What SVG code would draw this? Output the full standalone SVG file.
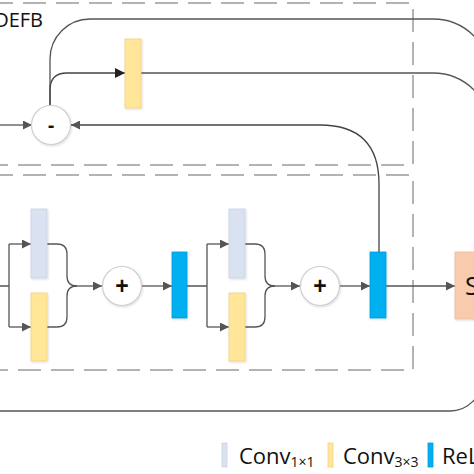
<svg xmlns="http://www.w3.org/2000/svg" width="474" height="474" viewBox="0 0 474 474">
<style>
.dash{fill:none;stroke:#9a9a9a;stroke-width:1.5;stroke-dasharray:23 10}
.ln{fill:none;stroke:#555;stroke-width:1.3}
.lnd{fill:none;stroke:#444;stroke-width:1.3}
.yel{fill:#FFE699;stroke:#F2D27E;stroke-width:0.8}
.lav{fill:#DAE1F1;stroke:#C9D1E6;stroke-width:0.8}
.blu{fill:#00B0F0;stroke:#0A9CD6;stroke-width:0.8}
.org{fill:#F8CBAD;stroke:#EDBB9A;stroke-width:0.8}
.circ{fill:#fff;stroke:#cfcfcf;stroke-width:1.2}
.op{font-family:"Liberation Sans",Arial,sans-serif;font-weight:bold;fill:#111;text-anchor:middle}
.lbl{font-family:"Open Sans","Noto Sans",sans-serif;fill:#111}
</style>
<defs>
<marker id="ah" viewBox="0 0 10 10" refX="10" refY="5" markerWidth="10" markerHeight="9" markerUnits="userSpaceOnUse" orient="auto">
<path d="M0,0 L10,5 L0,10 Z" fill="#555"/>
</marker>
<marker id="ahk" viewBox="0 0 10 10" refX="10" refY="5" markerWidth="11" markerHeight="10" markerUnits="userSpaceOnUse" orient="auto">
<path d="M0,0 L10,5 L0,10 Z" fill="#222"/>
</marker>
<filter id="sh" x="-30%" y="-30%" width="160%" height="160%">
<feDropShadow dx="0.8" dy="1" stdDeviation="1" flood-color="#000" flood-opacity="0.15"/>
</filter>
</defs>

<g id="frames">
<rect class="dash" x="-10" y="3" width="423" height="162"/>
<rect class="dash" x="-10" y="175" width="423" height="195"/>
</g>

<g id="title">
<text class="lbl" x="43" y="27" font-size="20" text-anchor="end">DEFB</text>
</g>

<g id="connectors">
<path class="ln" d="M0,125 H32" marker-end="url(#ah)"/>
<path class="ln" d="M50,105 V59 A40 40 0 0 1 90,19 H433 A58 58 0 0 1 491,77 V200"/>
<path class="lnd" d="M50,105 V90 Q50,73 67,73 H125" marker-end="url(#ahk)"/>
<path class="ln" d="M141,73 H433 A58 58 0 0 1 491,131 V200"/>
<path class="lnd" d="M379,252 V184 Q379,125 320,125 H71" marker-end="url(#ah)"/>
<path class="ln" d="M0,286 H9 M9,244 V327"/>
<path class="ln" d="M9,244 H31" marker-end="url(#ah)"/>
<path class="ln" d="M9,327 H31" marker-end="url(#ah)"/>
<path class="ln" d="M47,244 H57 Q67,244 67,254 V276 Q67,286 77,286"/>
<path class="ln" d="M47,327 H57 Q67,327 67,317 V296 Q67,286 77,286"/>
<path class="ln" d="M77,286 H102" marker-end="url(#ah)"/>
<path class="ln" d="M141,286 H172" marker-end="url(#ah)"/>
<path class="ln" d="M187,286 H207 M207,244 V327"/>
<path class="ln" d="M207,244 H229" marker-end="url(#ah)"/>
<path class="ln" d="M207,327 H229" marker-end="url(#ah)"/>
<path class="ln" d="M245,244 H255 Q265,244 265,254 V276 Q265,286 275,286"/>
<path class="ln" d="M245,327 H255 Q265,327 265,317 V296 Q265,286 275,286"/>
<path class="ln" d="M275,286 H300" marker-end="url(#ah)"/>
<path class="ln" d="M339,286 H370" marker-end="url(#ah)"/>
<path class="ln" d="M386,286 H455" marker-end="url(#ah)"/>
<path class="ln" d="M0,411 H450 A32 32 0 0 0 482,379 V300"/>
</g>

<g id="minus">
<circle class="circ" cx="51" cy="125" r="19.5" filter="url(#sh)"/>
<text class="op" x="51" y="132" font-size="20">-</text>
</g>
<g id="conv3-top">
<rect class="yel" x="125" y="39" width="16" height="69" filter="url(#sh)"/>
</g>

<g id="conv1-a"><rect class="lav" x="31" y="209" width="16" height="69" filter="url(#sh)"/></g>
<g id="conv3-a"><rect class="yel" x="31" y="293" width="16" height="68" filter="url(#sh)"/></g>
<g id="plus-a">
<circle class="circ" cx="122" cy="286" r="19.5" filter="url(#sh)"/>
<text class="op" x="122" y="294" font-size="23">+</text>
</g>
<g id="relu-a"><rect class="blu" x="172" y="252" width="15" height="66" filter="url(#sh)"/></g>
<g id="conv1-b"><rect class="lav" x="229" y="209" width="16" height="69" filter="url(#sh)"/></g>
<g id="conv3-b"><rect class="yel" x="229" y="293" width="16" height="68" filter="url(#sh)"/></g>
<g id="plus-b">
<circle class="circ" cx="320" cy="286" r="19.5" filter="url(#sh)"/>
<text class="op" x="320" y="294" font-size="23">+</text>
</g>
<g id="relu-b"><rect class="blu" x="370" y="252" width="16" height="66" filter="url(#sh)"/></g>
<g id="s-block">
<rect class="org" x="455" y="252" width="40" height="67" filter="url(#sh)"/>
<text class="lbl" x="465" y="295" font-size="25">S</text>
</g>

<g id="legend">
<rect class="lav" x="222" y="443" width="5" height="24"/>
<text class="lbl" x="239" y="464" font-size="22">Conv<tspan font-size="14" dy="3">1×1</tspan></text>
<rect class="yel" x="328" y="443" width="5" height="24"/>
<text class="lbl" x="343" y="464" font-size="22">Conv<tspan font-size="14" dy="3">3×3</tspan></text>
<rect class="blu" x="428" y="443" width="5" height="24"/>
<text class="lbl" x="442" y="464" font-size="22">ReLU</text>
</g>
</svg>
